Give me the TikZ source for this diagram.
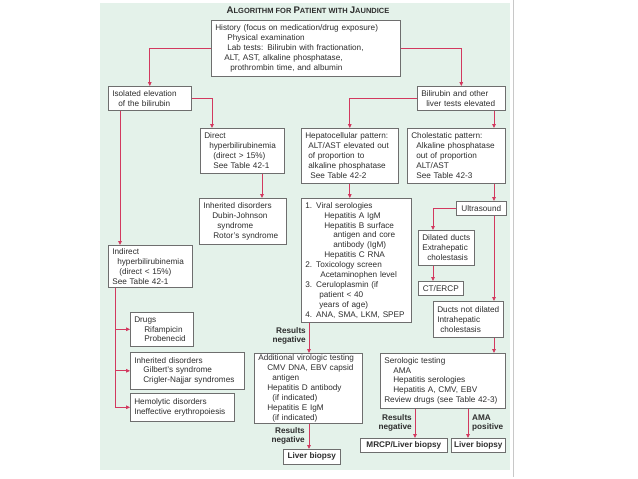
\documentclass[tikz,border=0pt]{standalone}
\usepackage{fontspec}
\setmainfont{Liberation Sans}
\usetikzlibrary{arrows.meta, positioning, calc, backgrounds}
\definecolor{panel}{HTML}{E4F2EA}
\definecolor{edge}{HTML}{6E6E6E}
\definecolor{ink}{HTML}{2E2E2E}
\definecolor{flow}{HTML}{D2395F}
\definecolor{pagegray}{HTML}{C8C8C8}
\newcommand{\boxfont}{\fontsize{8.2}{9.9}\selectfont}
\newcommand{\ind}[1]{\hspace*{#1pt}}
\newcommand{\initcap}[2]{{\fontsize{9.6}{10}\selectfont #1}#2}

\begin{document}
\begin{tikzpicture}[
  x=1pt, y=-1pt,
  box/.style={draw=edge, fill=white, font=\boxfont, text=ink, align=left,
              anchor=north west, inner xsep=4pt, inner ysep=1pt, line width=0.6pt},
  tag/.style={draw=edge, fill=white, font=\boxfont\bfseries, text=ink, align=center,
              anchor=north west, inner sep=1pt, line width=0.6pt},
  flowarrow/.style={draw=flow, line width=0.9pt, -{Triangle[width=3.6pt,length=4pt]}},
  verdict/.style={font=\fontsize{8.2}{9.4}\selectfont\bfseries, text=ink, inner sep=0pt},
]
  \useasboundingbox (0,0) rectangle (638,479);
  \fill[panel] (100,3) rectangle (510,470);
  \draw[pagegray, line width=0.8pt] (513,0) -- (513,477);

  % Title
  \node[font=\bfseries, text=ink, inner sep=0pt] (title) at (308,10)
    {\fontsize{7.5}{8}\selectfont\initcap{A}{LGORITHM FOR }\initcap{P}{ATIENT WITH }\initcap{J}{AUNDICE}};

  % Workup
  \node[box, text width=181pt, minimum height=56pt] (hist) at (211,20)
    {History (focus on medication/drug exposure)\\
     \ind{12}Physical examination\\
     \ind{12}Lab tests: Bilirubin with fractionation,\\
     \ind{9}ALT, AST, alkaline phosphatase,\\
     \ind{15}prothrombin time, and albumin};
  \node[box, text width=75pt, minimum height=24pt] (iso) at (108,86)
    {Isolated elevation\\\ind{6}of the bilirubin};
  \node[box, text width=80pt, minimum height=24pt] (bil) at (417,86)
    {Bilirubin and other\\\ind{5}liver tests elevated};

  % Isolated bilirubin branch
  \node[box, text width=76pt, minimum height=45pt] (direct) at (200,128)
    {Direct\\\ind{5}hyperbilirubinemia\\\ind{9}(direct > 15\%)\\\ind{9}See Table 42-1};
  \node[box, text width=79pt, minimum height=46pt] (inhd) at (199,198)
    {Inherited disorders\\\ind{9}Dubin-Johnson\\\ind{14}syndrome\\\ind{10}Rotor's syndrome};
  \node[box, text width=76pt, minimum height=42pt] (indirect) at (108,245)
    {Indirect\\\ind{5}hyperbilirubinemia\\\ind{7}(direct < 15\%)\\See Table 42-1};
  \node[box, text width=55pt, minimum height=34pt] (drugs) at (130,312)
    {Drugs\\\ind{10}Rifampicin\\\ind{10}Probenecid};
  \node[box, text width=106pt, minimum height=37pt] (inhi) at (130,352)
    {Inherited disorders\\\ind{9}Gilbert's syndrome\\\ind{9}Crigler-Najjar syndromes};
  \node[box, text width=96pt, minimum height=28pt] (hemo) at (130,393)
    {Hemolytic disorders\\Ineffective erythropoiesis};

  % Other liver tests branch
  \node[box, text width=89pt, minimum height=55pt] (hepato) at (301,128)
    {Hepatocellular pattern:\\\ind{3}ALT/AST elevated out\\\ind{3}of proportion to\\
     \ind{3}alkaline phosphatase\\\ind{5}See Table 42-2};
  \node[box, text width=90pt, minimum height=55pt] (chole) at (407,128)
    {Cholestatic pattern:\\\ind{5}Alkaline phosphatase\\\ind{5}out of proportion\\
     \ind{5}ALT/AST\\\ind{5}See Table 42-3};
  \node[box, text width=102pt, minimum height=124pt] (viral) at (301,198)
    {1. Viral serologies\\
     \ind{19}Hepatitis A IgM\\
     \ind{19}Hepatitis B surface\\
     \ind{28}antigen and core\\
     \ind{28}antibody (IgM)\\
     \ind{19}Hepatitis C RNA\\
     2. Toxicology screen\\
     \ind{15}Acetaminophen level\\
     3. Ceruloplasmin (if\\
     \ind{14}patient < 40\\
     \ind{14}years of age)\\
     4. ANA, SMA, LKM, SPEP};
  \node[box, align=center, inner xsep=1pt, minimum width=50pt, minimum height=14pt] (ultra) at (456,201)
    {Ultrasound};
  \node[box, text width=48pt, minimum height=35pt] (dilated) at (418,230)
    {Dilated ducts\\Extrahepatic\\\ind{5}cholestasis};
  \node[box, align=center, inner xsep=1pt, minimum width=45pt, minimum height=14pt] (ct) at (418,281)
    {CT/ERCP};
  \node[box, text width=62pt, minimum height=36pt] (ducts) at (433,301)
    {Ducts not dilated\\Intrahepatic\\\ind{3}cholestasis};
  \node[box, text width=117pt, minimum height=55pt] (sero) at (380,353)
    {Serologic testing\\\ind{9}AMA\\\ind{9}Hepatitis serologies\\
     \ind{9}Hepatitis A, CMV, EBV\\Review drugs (see Table 42-3)};
  \node[box, text width=100pt, minimum height=70pt] (addl) at (254,353)
    {Additional virologic testing\\
     \ind{9}CMV DNA, EBV capsid\\
     \ind{14}antigen\\
     \ind{9}Hepatitis D antibody\\
     \ind{14}(if indicated)\\
     \ind{9}Hepatitis E IgM\\
     \ind{14}(if indicated)};

  % Final steps
  \node[tag, minimum width=57pt, minimum height=15pt] (liverL) at (283,449) {Liver biopsy};
  \node[tag, minimum width=87pt, minimum height=14pt] (mrcp) at (360,438) {MRCP/Liver biopsy};
  \node[tag, minimum width=54pt, minimum height=14pt] (liverR) at (451,438) {Liver biopsy};

  % Columns for the vertical runs
  \coordinate (isox) at (120,0);
  \coordinate (dirx) at (212,0);
  \coordinate (dirdown) at (262,0);
  \coordinate (trunk) at (115,0);
  \coordinate (colA) at (494,0);
  \coordinate (colD) at (433,0);
  \coordinate (colV) at (309,0);
  \coordinate (colM) at (415,0);
  \coordinate (colL) at (468,0);

  % Connectors
  \draw[flowarrow] (hist.west) -| (iso.north);
  \draw[flowarrow] (hist.east) -| (bil.north);
  \draw[flowarrow] (iso.east) -| (direct.north -| dirx);
  \draw[flowarrow] (iso.south -| isox) -- (indirect.north -| isox);
  \draw[flowarrow] (direct.south -| dirdown) -- (inhd.north -| dirdown);
  \draw[flowarrow] (indirect.south -| trunk) |- (drugs.west);
  \draw[flowarrow] (indirect.south -| trunk) |- (inhi.west);
  \draw[flowarrow] (indirect.south -| trunk) |- (hemo.west);
  \draw[flowarrow] (bil.west) -| (hepato.north);
  \draw[flowarrow] (bil.south -| colA) -- (chole.north -| colA);
  \draw[flowarrow] (hepato.south) -- (hepato.south |- viral.north);
  \draw[flowarrow] (chole.south -| colA) -- (ultra.north -| colA);
  \draw[flowarrow] (ultra.west) -| (dilated.north -| colD);
  \draw[flowarrow] (ultra.south -| colA) -- (ducts.north -| colA);
  \draw[flowarrow] (dilated.south -| colD) -- (ct.north -| colD);
  \draw[flowarrow] (ducts.south -| colA) -- (sero.north -| colA);
  \draw[flowarrow] (viral.south -| colV) -- (addl.north -| colV);
  \draw[flowarrow] (addl.south -| colV) -- (liverL.north -| colV);
  \draw[flowarrow] (sero.south -| colM) -- (mrcp.north -| colM);
  \draw[flowarrow] (sero.south -| colL) -- (liverR.north -| colL);

  % Outcome labels
  \node[verdict, align=right, anchor=east] (negviral) at (306,336) {Results\\negative};
  \node[verdict, align=right, anchor=east] (negaddl) at (305,436) {Results\\negative};
  \node[verdict, align=right, anchor=east] (negsero) at (412,423) {Results\\negative};
  \node[verdict, align=left, anchor=west] (amapos) at (472,423) {AMA\\positive};
\end{tikzpicture}
\end{document}
